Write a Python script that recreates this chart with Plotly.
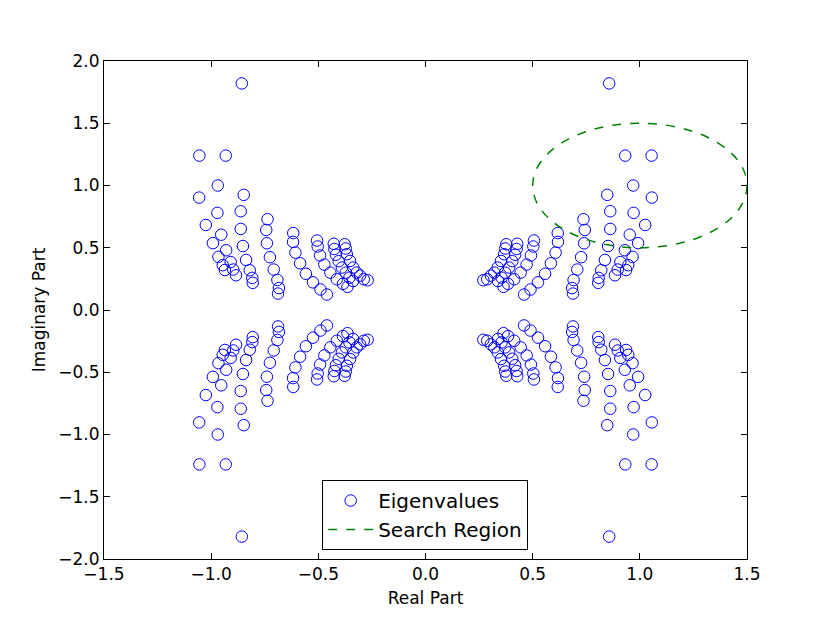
import plotly.graph_objects as go

# eigenvalues, first quadrant only (re > 0, im > 0);
# the spectrum is symmetric, so the full set is (+-re, +-im)
lone_re = [0.857]
lone_im = [1.82]

outer_a_re = [0.932, 0.969, 0.971, 0.953, 0.930, 0.909, 0.897, 0.884]
outer_a_im = [1.240, 1.000, 0.780, 0.605, 0.480, 0.385, 0.325, 0.279]

outer_b_re = [1.055, 1.056, 1.025, 0.992, 0.966, 0.946, 0.936]
outer_b_im = [1.240, 0.903, 0.683, 0.537, 0.427, 0.360, 0.321]

col_085_re = [0.848, 0.862, 0.862, 0.852, 0.837, 0.820, 0.808, 0.806]
col_085_im = [0.925, 0.793, 0.651, 0.514, 0.402, 0.319, 0.258, 0.218]

col_074_re = [0.737, 0.743, 0.740, 0.726, 0.708, 0.691, 0.684, 0.688]
col_074_im = [0.729, 0.643, 0.536, 0.424, 0.325, 0.241, 0.176, 0.132]

arc_062_re = [0.617, 0.618, 0.607, 0.585, 0.558, 0.525, 0.490, 0.460]
arc_062_im = [0.618, 0.547, 0.461, 0.375, 0.291, 0.222, 0.165, 0.124]

arc_051_re = [0.506, 0.503, 0.492, 0.472, 0.444, 0.414, 0.385, 0.364]
arc_051_im = [0.558, 0.510, 0.438, 0.365, 0.300, 0.247, 0.210, 0.186]

inner_a_re = [0.428, 0.425, 0.418, 0.405, 0.390, 0.372, 0.355, 0.338]
inner_a_im = [0.532, 0.490, 0.444, 0.392, 0.341, 0.300, 0.260, 0.233]

inner_b_re = [0.377, 0.372, 0.367, 0.352, 0.337, 0.321, 0.305, 0.288, 0.270]
inner_b_im = [0.528, 0.494, 0.448, 0.394, 0.341, 0.300, 0.276, 0.247, 0.239]

q_re = (lone_re + outer_a_re + outer_b_re + col_085_re + col_074_re
        + arc_062_re + arc_051_re + inner_a_re + inner_b_re)
q_im = (lone_im + outer_a_im + outer_b_im + col_085_im + col_074_im
        + arc_062_im + arc_051_im + inner_a_im + inner_b_im)

eig_re = []
eig_im = []
for sr in (1, -1):
    for si in (1, -1):
        eig_re += [sr * v for v in q_re]
        eig_im += [si * v for v in q_im]

# search region: circle centred at 1+1i, radius 0.5
search_center = (1.0, 1.0)
search_radius = 0.5

font = "DejaVu Sans"

fig = go.Figure()
fig.add_trace(go.Scatter(
    x=eig_re, y=eig_im, mode="markers", name="Eigenvalues",
    marker=dict(symbol="circle-open", size=11.5, color="blue",
                line=dict(width=1, color="blue")),
))
fig.add_trace(go.Scatter(
    x=[None], y=[None], mode="lines", name="Search Region",
    line=dict(color="green", dash="dash", width=1.5),
))
fig.add_shape(
    type="circle", xref="x", yref="y",
    x0=search_center[0] - search_radius, x1=search_center[0] + search_radius,
    y0=search_center[1] - search_radius, y1=search_center[1] + search_radius,
    line=dict(color="green", dash="dash", width=1.5),
)

axis_style = dict(
    showgrid=False, zeroline=False, showline=True, linecolor="black",
    linewidth=1, mirror="ticks", ticks="inside", ticklen=6,
    tickcolor="black", tickformat=".1f", dtick=0.5,
    tickfont=dict(family=font, size=17, color="black"),
)

fig.update_xaxes(range=[-1.5, 1.5], title=dict(text="Real Part",
                 font=dict(family=font, size=17, color="black"), standoff=8),
                 **axis_style)
fig.update_yaxes(range=[-2.0, 2.0], title=dict(text="Imaginary Part",
                 font=dict(family=font, size=17, color="black"), standoff=8),
                 **axis_style)

fig.update_layout(
    width=830, height=623,
    margin=dict(l=96, r=91, t=53, b=72),
    plot_bgcolor="white", paper_bgcolor="white",
    font=dict(family=font, color="black"),
    legend=dict(
        x=0.4995, y=0.018, xanchor="center", yanchor="bottom",
        bordercolor="black", borderwidth=1, bgcolor="white",
        itemwidth=45,
        font=dict(family=font, size=20, color="black"),
    ),
)

fig.write_html("out.html")
